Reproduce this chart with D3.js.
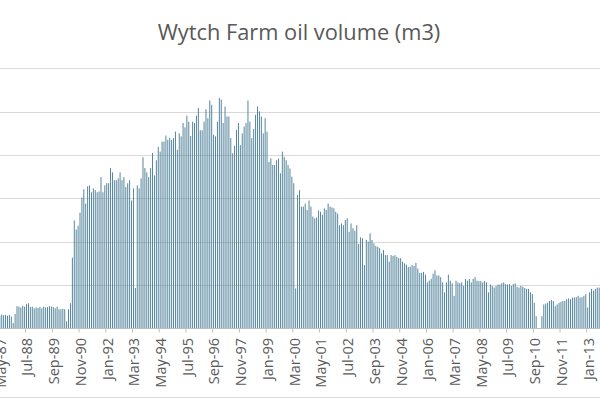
<!DOCTYPE html>
<html>
<head>
<meta charset="utf-8">
<script src="https://cdnjs.cloudflare.com/ajax/libs/d3/7.8.5/d3.min.js"></script>
<style>
  body { margin: 0; background: #fff; }
</style>
</head>
<body>
<svg id="chart" width="600" height="400"></svg>
<script>
var chartTitle = "Wytch Farm oil volume (m3)";

var years = [1987, 1988, 1989, 1990, 1991, 1992, 1993, 1994, 1995, 1996, 1997, 1998, 1999,
             2000, 2001, 2002, 2003, 2004, 2005, 2006, 2007, 2008, 2009, 2010, 2011, 2012, 2013];
var monthNames = ["Jan", "Feb", "Mar", "Apr", "May", "Jun", "Jul", "Aug", "Sep", "Oct", "Nov", "Dec"];

// labels shown on the category axis (every 14th month)
var tickLabels = ["May-87", "Jul-88", "Sep-89", "Nov-90", "Jan-92", "Mar-93", "May-94", "Jul-95",
                  "Sep-96", "Nov-97", "Jan-99", "Mar-00", "May-01", "Jul-02", "Sep-03", "Nov-04",
                  "Jan-06", "Mar-07", "May-08", "Jul-09", "Sep-10", "Nov-11", "Jan-13"];

// gridlines, thousand m3
var yTicks = [0, 100, 200, 300, 400, 500, 600];

// monthly oil volume, thousand m3
var vol1987 = [30, 31, 29, 30, 29, 32, 30, 31, 29, 31, 27, 12];
var vol1988 = [33, 51, 50, 48, 52, 50, 56, 58, 49, 50, 46, 48];
var vol1989 = [47, 49, 46, 50, 48, 49, 51, 50, 49, 46, 50, 44];
var vol1990 = [44, 45, 44, 16, 44, 58, 163, 249, 228, 237, 267, 302];
var vol1991 = [321, 288, 328, 330, 314, 323, 319, 314, 316, 349, 314, 330];
var vol1992 = [335, 335, 370, 360, 342, 342, 346, 360, 342, 349, 326, 335];
var vol1993 = [342, 295, 323, 93, 330, 323, 346, 395, 370, 360, 349, 370];
var vol1994 = [405, 353, 388, 419, 408, 431, 431, 445, 435, 440, 435, 439];
var vol1995 = [454, 412, 450, 443, 474, 464, 491, 477, 444, 477, 474, 491];
var vol1996 = [509, 457, 457, 477, 506, 485, 526, 516, 447, 443, 477, 532];
var vol1997 = [528, 474, 512, 489, 489, 439, 404, 421, 458, 474, 423, 450];
var vol1998 = [466, 474, 526, 477, 439, 460, 493, 512, 501, 489, 450, 485];
var vol1999 = [454, 384, 392, 377, 377, 388, 392, 358, 408, 396, 388, 377];
var vol2000 = [369, 350, 335, 92, 308, 319, 281, 281, 288, 273, 295, 281];
var vol2001 = [258, 254, 256, 272, 269, 262, 277, 273, 288, 281, 279, 277];
var vol2002 = [269, 265, 238, 242, 238, 250, 254, 223, 242, 231, 225, 238];
var vol2003 = [195, 210, 208, 146, 204, 200, 219, 204, 196, 190, 188, 185];
var vol2004 = [173, 181, 169, 169, 154, 169, 167, 169, 165, 162, 162, 154];
var vol2005 = [150, 147, 142, 142, 146, 144, 151, 138, 128, 128, 130, 124];
var vol2006 = [106, 110, 114, 126, 134, 122, 122, 118, 106, 83, 106, 124];
var vol2007 = [110, 104, 75, 110, 106, 104, 106, 98, 114, 110, 114, 106];
var vol2008 = [114, 118, 110, 109, 109, 106, 109, 106, 83, 101, 98, 94];
var vol2009 = [98, 101, 101, 104, 106, 102, 101, 102, 98, 102, 104, 96];
var vol2010 = [94, 98, 96, 93, 91, 91, 83, 79, 59, 28, 0, 0];
var vol2011 = [28, 55, 57, 59, 63, 65, 63, 51, 55, 59, 61, 63];
var vol2012 = [63, 67, 69, 67, 71, 71, 72, 75, 71, 72, 75, 79];
var vol2013 = [48, 83, 91, 87, 91, 94, 94, 92, 95, 90, 93, 96];

var volumes = [].concat(vol1987, vol1988, vol1989, vol1990, vol1991, vol1992, vol1993, vol1994,
  vol1995, vol1996, vol1997, vol1998, vol1999, vol2000, vol2001, vol2002, vol2003, vol2004,
  vol2005, vol2006, vol2007, vol2008, vol2009, vol2010, vol2011, vol2012, vol2013);

var categories = [];
years.forEach(function(y) {
  monthNames.forEach(function(m) {
    categories.push(m + "-" + String(y).slice(2));
  });
});

var data = categories.map(function(c, i) { return {month: c, value: volumes[i]}; });

// the plot area is wider than the window, only the middle part shows
var step = 1.9086;
var left = -8.75;

var svg = d3.select("#chart");

var x = d3.scaleBand()
  .domain(categories)
  .range([left, left + categories.length * step])
  .paddingInner(0.5)
  .paddingOuter(0.25);

var y = d3.scaleLinear()
  .domain([0, 600])
  .range([328.3, 68.4]);

// gridlines
svg.append("g")
  .selectAll("line")
  .data(yTicks.slice(1))
  .enter()
  .append("line")
  .attr("x1", 0)
  .attr("x2", 600)
  .attr("y1", function(d) { return Math.round(y(d)) + 0.5; })
  .attr("y2", function(d) { return Math.round(y(d)) + 0.5; })
  .attr("stroke", "#d9d9d9")
  .attr("stroke-width", 1);

// bars
svg.append("g")
  .selectAll("rect")
  .data(data)
  .enter()
  .append("rect")
  .attr("x", function(d) { return x(d.month); })
  .attr("y", function(d) { return y(d.value); })
  .attr("width", x.bandwidth())
  .attr("height", function(d) { return y(0) - y(d.value); })
  .attr("fill", "#4f8099");

// axis line
svg.append("line")
  .attr("x1", 0)
  .attr("x2", 600)
  .attr("y1", Math.round(y(0)) + 0.5)
  .attr("y2", Math.round(y(0)) + 0.5)
  .attr("stroke", "#bfbfbf");

var xAxis = d3.axisBottom(x)
  .tickValues(tickLabels)
  .tickSize(4)
  .tickSizeOuter(0);

var gx = svg.append("g")
  .attr("transform", "translate(0," + (Math.round(y(0)) + 0.5) + ")")
  .call(xAxis);

gx.select(".domain").remove();

gx.selectAll(".tick line")
  .attr("x1", -x.step() / 2)
  .attr("x2", -x.step() / 2)
  .attr("stroke", "#bfbfbf");

gx.selectAll(".tick text")
  .attr("transform", "rotate(-90)")
  .attr("x", -9.5)
  .attr("y", 0.8)
  .attr("dy", "0.35em")
  .style("text-anchor", "end")
  .style("font-family", "'Open Sans', sans-serif")
  .style("font-size", "14.5px")
  .attr("fill", "#595959");

// title
svg.append("text")
  .attr("x", 299)
  .attr("y", 40)
  .attr("text-anchor", "middle")
  .style("font-family", "'Open Sans', sans-serif")
  .style("font-size", "21.8px")
  .attr("fill", "#595959")
  .text(chartTitle);

// chart border at the bottom
svg.append("line")
  .attr("x1", 0)
  .attr("x2", 600)
  .attr("y1", 397.5)
  .attr("y2", 397.5)
  .attr("stroke", "#d9d9d9");
</script>
</body>
</html>
